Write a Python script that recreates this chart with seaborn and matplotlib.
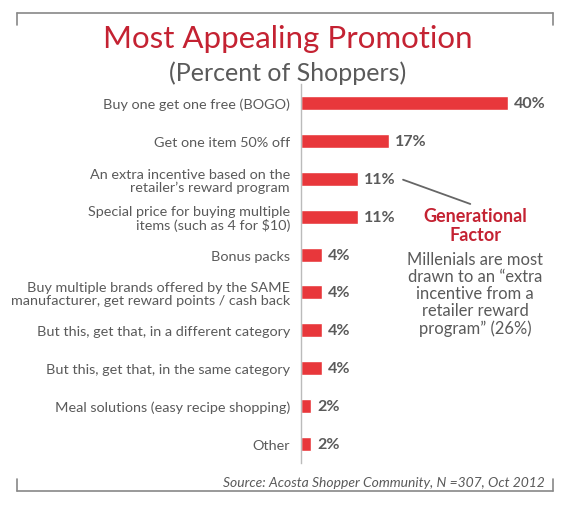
import matplotlib
matplotlib.use("Agg")
import matplotlib.pyplot as plt
from matplotlib.lines import Line2D
import pandas as pd
import seaborn as sns

# data
promotions = [
    "Buy one get one free (BOGO)",
    "Get one item 50% off",
    "An extra incentive based on the\nretailer\u2019s reward program",
    "Special price for buying multiple\nitems (such as 4 for $10)",
    "Bonus packs",
    "Buy multiple brands offered by the SAME\nmanufacturer, get reward points / cash back",
    "But this, get that, in a different category",
    "But this, get that, in the same category",
    "Meal solutions (easy recipe shopping)",
    "Other",
]
percents = [40, 17, 11, 11, 4, 4, 4, 4, 2, 2]

df = pd.DataFrame({"promotion": promotions, "percent": percents})

sns.set_theme(style="white")
plt.rcParams["font.family"] = ["Lato", "DejaVu Sans"]

bar_red = "#e8373b"
title_red = "#c42232"
grey = "#5a5a5a"

fig = plt.figure(figsize=(5.69, 5.06), dpi=100)
ax = fig.add_axes([0.529, 0.083, 0.455, 0.749])

sns.barplot(data=df, x="percent", y="promotion", orient="h", color=bar_red,
            width=0.37, saturation=1, ax=ax)

ax.set_xlim(0, 50)
ax.set_ylim(9.5, -0.5)
ax.set_xlabel("")
ax.set_ylabel("")
ax.set_xticks([])
for s in ["top", "right", "bottom"]:
    ax.spines[s].set_visible(False)
ax.spines["left"].set_color("#bbbbbb")
ax.spines["left"].set_linewidth(1.0)
ax.tick_params(axis="y", which="major", length=0, pad=8, labelsize=10.4, labelcolor=grey)
ax.set_yticks([i + 0.5 for i in range(-1, 10)], minor=True)
ax.tick_params(axis="y", which="minor", length=3, color="#bbbbbb", direction="out")
for lbl in ax.get_yticklabels():
    lbl.set_horizontalalignment("right")
    lbl.set_linespacing(1.1)

for i, v in enumerate(percents):
    ax.text(v + 1.2, i, f"{v}%", va="center", ha="left", fontsize=11.5,
            color=grey, fontweight="bold")

# titles
fig.text(0.505, 0.922, "Most Appealing Promotion", ha="center", va="center",
         fontsize=22.5, color=title_red)
fig.text(0.505, 0.856, "(Percent of Shoppers)", ha="center", va="center",
         fontsize=18, color=grey)

# callout
ax.annotate("", xy=(19.2, 2), xytext=(33.2, 2.69),
            arrowprops=dict(arrowstyle="-", color="#666666", lw=1.3))
fig.text(0.835, 0.553, "Generational\nFactor", ha="center", va="center",
         fontsize=13, color=title_red, fontweight="bold", linespacing=1.1)
fig.text(0.835, 0.418,
         "Millenials are most\ndrawn to an \u201cextra\nincentive from a\nretailer reward\nprogram\u201d (26%)",
         ha="center", va="center", fontsize=11.9, color=grey, linespacing=1.1)

fig.text(0.958, 0.045, "Source: Acosta Shopper Community, N =307, Oct 2012",
         ha="right", va="center", fontsize=10, color=grey, style="italic")

# frame brackets
fc = "#888888"
fig.add_artist(Line2D([0.030, 0.972], [0.972, 0.972], color=fc, lw=1.2))
fig.add_artist(Line2D([0.030, 0.030], [0.972, 0.948], color=fc, lw=1.2))
fig.add_artist(Line2D([0.972, 0.972], [0.972, 0.948], color=fc, lw=1.2))
fig.add_artist(Line2D([0.030, 0.972], [0.027, 0.027], color=fc, lw=1.2))
fig.add_artist(Line2D([0.030, 0.030], [0.027, 0.051], color=fc, lw=1.2))
fig.add_artist(Line2D([0.972, 0.972], [0.027, 0.051], color=fc, lw=1.2))

fig.savefig("out.png", dpi=100, facecolor="white")
